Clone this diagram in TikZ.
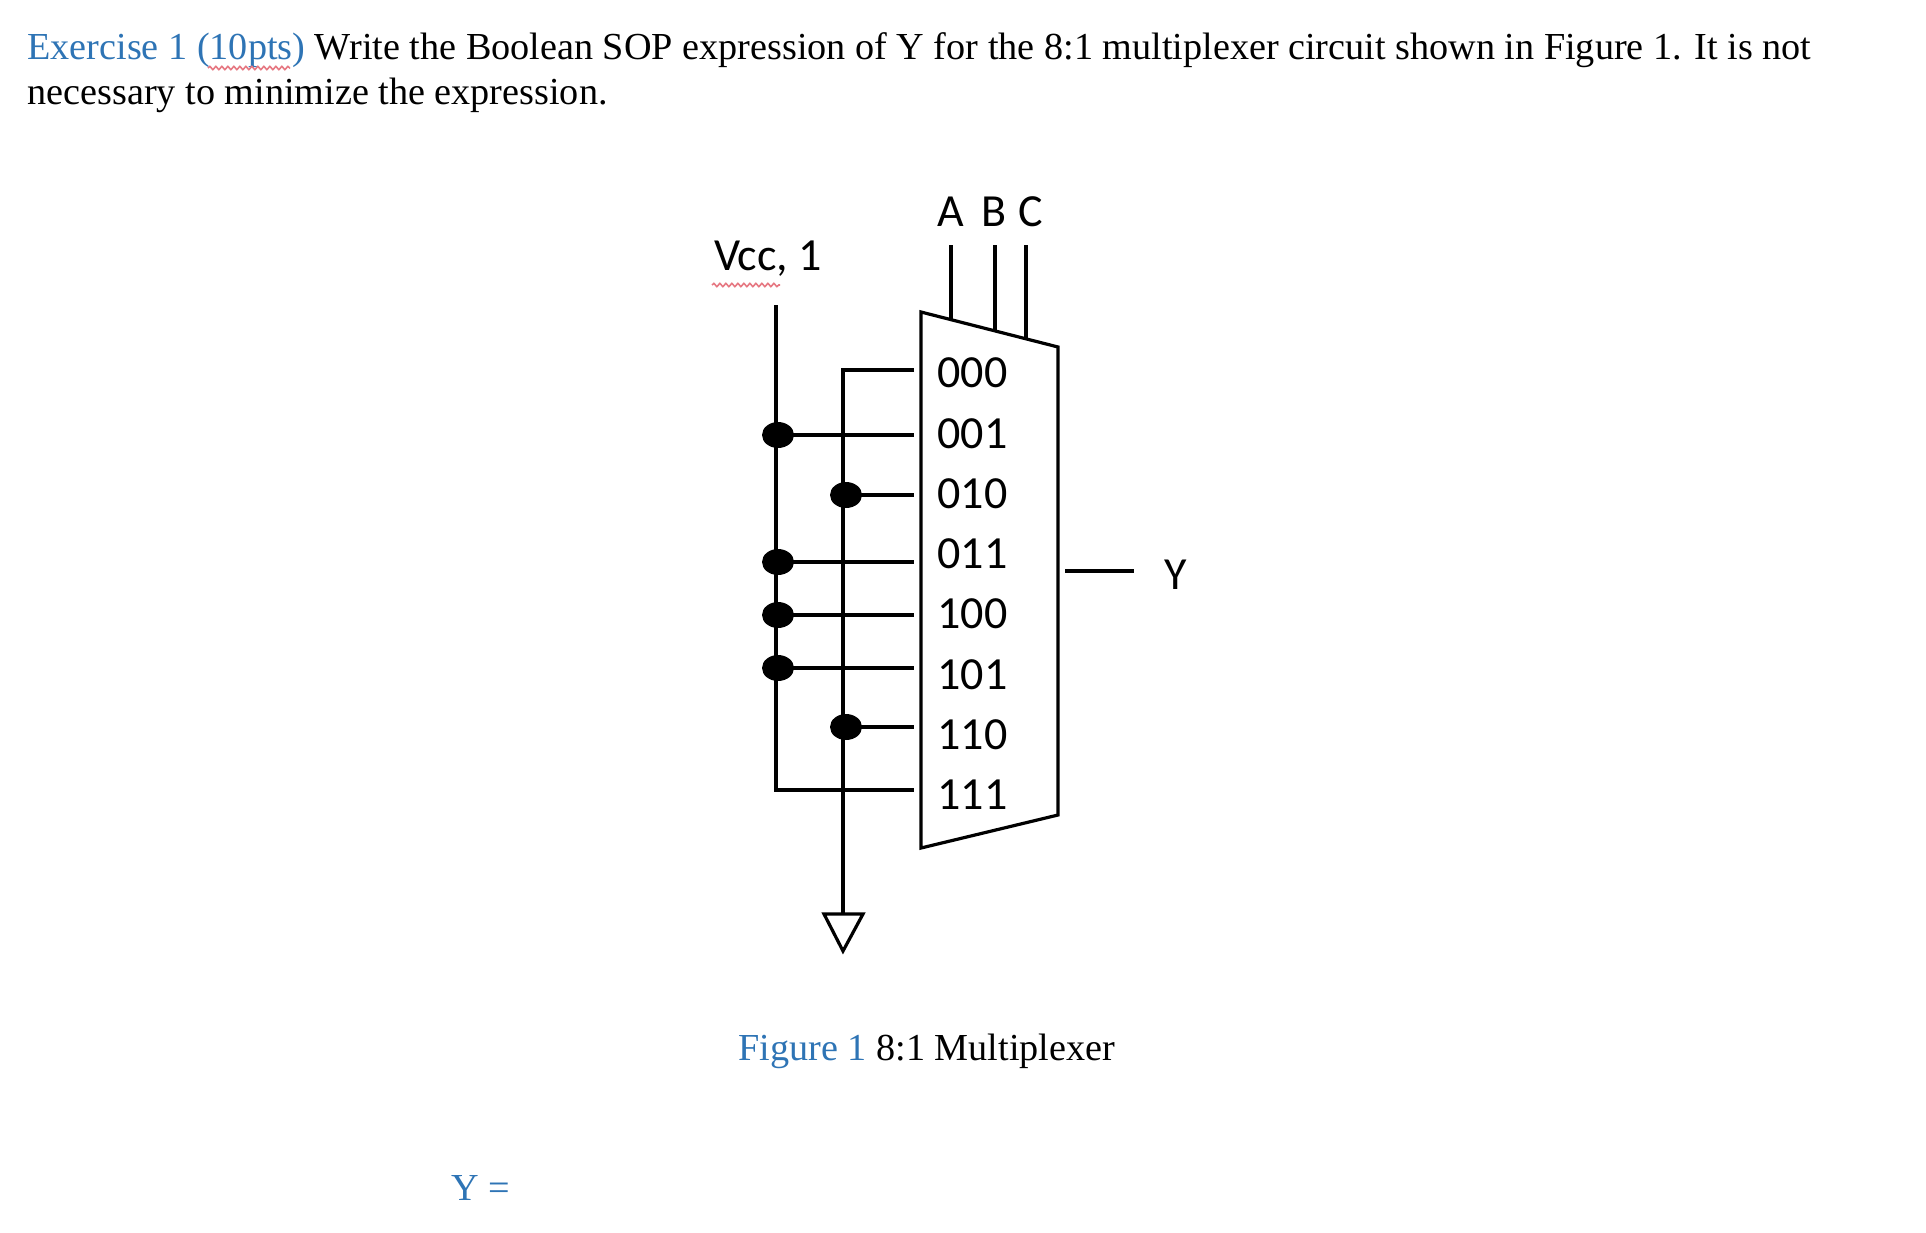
\documentclass[tikz,border=0pt]{standalone}
\usepackage{fontspec}
\setmainfont{Liberation Serif}
\newfontfamily\diag{Carlito}
\usetikzlibrary{decorations.pathmorphing,shapes.geometric}
\definecolor{wblue}{RGB}{46,116,181}
\definecolor{squig}{RGB}{230,120,130}
\begin{document}
\begin{tikzpicture}[x=0.5pt,y=-0.5pt,
  wire/.style={line width=1.6pt},
  dot/.style={fill=black,draw=none,ellipse,minimum width=16pt,minimum height=13pt,inner sep=0pt},
  lab/.style={font=\diag\fontsize{23}{26}\selectfont,anchor=west,inner sep=0pt},
  dtxt/.style={font=\diag\fontsize{23}{26}\selectfont},
  txt/.style={font=\fontsize{19.1}{22}\selectfont,anchor=base west,inner sep=0pt},
  wavy/.style={squig,line width=0.8pt,decorate,decoration={snake,amplitude=0.8pt,segment length=3pt}}]
\useasboundingbox (0,0) rectangle (1926,1232);
% header
\node[txt] (h1) at (27,59) {\textcolor{wblue}{Exercise 1 (10pts)} Write the Boolean SOP expression of Y for the 8:1 multiplexer circuit shown in Figure 1. It is not};
\node[txt] (h2) at (27,104) {necessary to minimize the expression.};
\draw[wavy] (208,68) -- (290,68);
% mux body
\draw[wire] (921,312) -- (1058,347) -- (1058,815) -- (921,848) -- cycle;
% select lines
\draw[wire] (951,245) -- (951,320);
\draw[wire] (995,245) -- (995,331);
\draw[wire] (1026,245) -- (1026,339);
\node[dtxt] (A) at (951,212) {A};
\node[dtxt] (B) at (994,212) {B};
\node[dtxt] (C) at (1031,212) {C};
% labels
\foreach \t [count=\k from 0] in {000,001,010,011,100,101,110,111}
  \node[lab] (l\t) at (937,{373+60.3*\k}) {\t};
% Vcc and GND rails
\node[dtxt] (vcc) at (768,259) {Vcc, 1};
\draw[wavy] (712,285) -- (780,285);
\coordinate (vtop) at (776,305);
\coordinate (gtop) at (843,370);
\coordinate (gbot) at (843,914);
\draw[wire] (vtop) -- (776,790) -- (914,790);
\draw[wire] (914,370) -- (gtop) -- (gbot);
\draw[wire] (824,914) -- (863,914) -- (843,951) -- cycle;
% input wires
\foreach \y in {435,562,615,668} {\node[dot] at (778,\y) {}; \draw[wire] (776,\y) -- (914,\y);}
\foreach \y in {495,727} {\node[dot] at (846,\y) {}; \draw[wire] (843,\y) -- (914,\y);}
% output
\draw[wire] (1065,571) -- (1134,571);
\node[dtxt] (Y) at (1176,575) {Y};
% caption
\node[txt] (cap) at (738,1060) {\textcolor{wblue}{Figure 1} 8:1 Multiplexer};
\node[txt] (yeq) at (451,1200) {\textcolor{wblue}{Y =}};
\end{tikzpicture}
\end{document}
